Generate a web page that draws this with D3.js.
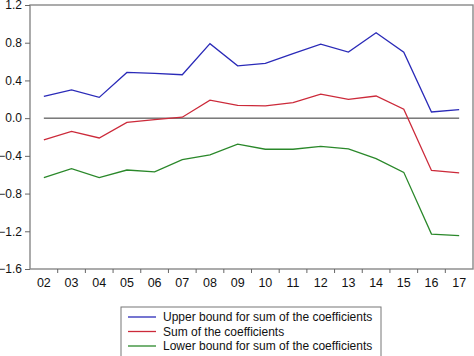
<!DOCTYPE html>
<html>
<head>
<meta charset="utf-8">
<script src="https://cdn.jsdelivr.net/npm/d3@7"></script>
<style>
  html, body { margin: 0; padding: 0; background: #fff; }
  svg { display: block; }
  text { font-family: "Liberation Sans", Arial, sans-serif; fill: #111; }
</style>
</head>
<body>
<svg id="chart" width="474" height="356"></svg>
<script>
const years = ["02","03","04","05","06","07","08","09","10","11","12","13","14","15","16","17"];
const upper = [0.23, 0.30, 0.22, 0.485, 0.475, 0.46, 0.79, 0.555, 0.58, 0.685, 0.785, 0.70, 0.905, 0.70, 0.065, 0.09];
const sumCoef = [-0.23, -0.14, -0.21, -0.045, -0.015, 0.01, 0.19, 0.135, 0.13, 0.165, 0.255, 0.20, 0.235, 0.095, -0.555, -0.58];
const lower = [-0.63, -0.535, -0.63, -0.55, -0.57, -0.44, -0.39, -0.275, -0.33, -0.33, -0.30, -0.325, -0.43, -0.575, -1.23, -1.245];
const yTicks = [1.2, 0.8, 0.4, 0.0, -0.4, -0.8, -1.2, -1.6];
const legendLabels = ["Upper bound for sum of the coefficients", "Sum of the coefficients", "Lower bound for sum of the coefficients"];
const colors = ["#2a2ab8", "#cc2a3a", "#2a882a"];

(function () {
const svg = d3.select("#chart");
const mLeft = 30, mRight = 473, mTop = 5, mBottom = 269;

const x = d3.scaleBand().domain(years).range([mLeft, mRight]);
const y = d3.scaleLinear().domain([-1.6, 1.2]).range([mBottom, mTop]);
const cx = d => x(d) + x.bandwidth() / 2;

// frame
svg.append("rect").attr("x", mLeft).attr("y", mTop).attr("width", mRight - mLeft).attr("height", mBottom - mTop)
  .attr("fill", "none").attr("stroke", "#888").attr("stroke-width", 1.4);

// y axis
const yAxis = d3.axisLeft(y).tickValues(yTicks).tickFormat(d3.format(".1f")).tickSize(5).tickPadding(3);
const gy = svg.append("g").attr("transform", `translate(${mLeft},0)`).call(yAxis);
gy.select(".domain").remove();
gy.selectAll(".tick line").attr("stroke", "#666");
gy.selectAll(".tick text").attr("font-size", 12).attr("font-family", "Liberation Sans, Arial, sans-serif").attr("fill", "#111");

// x axis
const xAxis = d3.axisBottom(x).tickSize(0).tickPadding(9);
const gx = svg.append("g").attr("transform", `translate(0,${mBottom})`).call(xAxis);
gx.select(".domain").remove();
gx.selectAll(".tick text").attr("font-size", 12.5).attr("font-family", "Liberation Sans, Arial, sans-serif").attr("fill", "#111");
// boundary ticks between categories
svg.append("g").selectAll("line").data(years.slice(1)).join("line")
  .attr("x1", d => x(d)).attr("x2", d => x(d))
  .attr("y1", mBottom).attr("y2", mBottom + 4)
  .attr("stroke", "#666");

// zero line
svg.append("line").attr("x1", cx(years[0])).attr("x2", cx(years[years.length - 1]))
  .attr("y1", y(0)).attr("y2", y(0)).attr("stroke", "#333").attr("stroke-width", 1);

const line = d3.line().x((d, i) => cx(years[i])).y(d => y(d));
[upper, sumCoef, lower].forEach((s, k) => {
  svg.append("path").datum(s).attr("d", line).attr("fill", "none")
    .attr("stroke", colors[k]).attr("stroke-width", 1.3);
});

// legend
const lg = svg.append("g");
lg.append("rect").attr("x", 121).attr("y", 307).attr("width", 260).attr("height", 60)
  .attr("fill", "#fff").attr("stroke", "#777").attr("stroke-width", 1);
legendLabels.forEach((t, i) => {
  const yy = 317 + i * 14.5;
  lg.append("line").attr("x1", 128).attr("x2", 156).attr("y1", yy).attr("y2", yy)
    .attr("stroke", colors[i]).attr("stroke-width", 1.3);
  lg.append("text").attr("x", 163).attr("y", yy).attr("dy", "0.35em")
    .attr("font-size", 12).text(t);
});
})();
</script>
</body>
</html>
